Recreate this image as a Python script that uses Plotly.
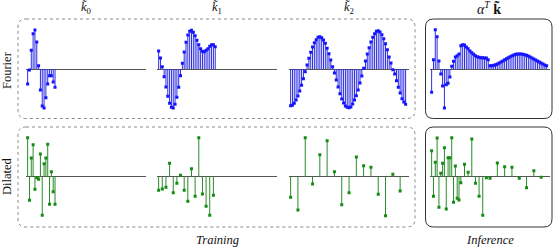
import plotly.graph_objects as go

W, H = 555, 247

# ---------------- data ----------------
k0_fourier = [-45, -3, 56, 106, 117, 81, 10, -63, -111, -117, -86, -45, -20, -20, -39, -55]
k1_fourier = [54, 33, 7, -23, -54, -82, -103, -115, -117, -106, -85, -55, -20, 17, 51, 80,
              102, 113, 116, 110, 100, 86, 73, 61, 53, 52, 56, 61, 68, 73, 73, 67]
k2_fourier = [-110, -109, -103, -93, -81, -66, -49, -29, -8, 12, 32, 50, 66, 79, 88, 95,
              97, 94, 87, 77, 62, 46, 27, 7, -12, -33, -54, -74, -90, -102, -111, -115,
              -116, -114, -105, -93, -80, -63, -42, -21, 2, 24, 45, 64, 81, 95, 106, 113,
              115, 111, 103, 91, 76, 58, 36, 18, -2, -15, -35, -55, -72, -89, -99, -106]
inf_fourier = [-70, 28, 118, 97, 24, -15, -51, -117, -47, -43, -24, 8, 23, 36, 40, 45,
               70, 73, 72, 66, 61, 54, 49, 44, 40, 37, 35, 34, 34, 33, 33, 28,
               10, 10, 11, 13, 15, 18, 21, 24, 28, 31, 34, 37, 40, 42, 44, 45,
               45, 45, 44, 43, 41, 39, 36, 33, 30, 27, 24, 21, 18, 15, 12, 10]

k0_dilated = [117, -71, 56, 96, -38, -3, -8, 68, -116, 39, 56, 97, -83, 15, -45, -83]
k1_dilated = [-41, -37, -32, 40, -48, -20, 4, -41, -74, 24, -59, 117, -52, -89, -116, -56]
k2_dilated = [-62, -100, 117, -22, 66, 108, 15, -84, -48, 59, 33, 28, -53, -117, 7, -43]
k0_dil_idx = list(range(0, 16, 1))
k1_dil_idx = list(range(0, 32, 2))
k2_dil_idx = list(range(0, 64, 4))
inf_dil_idx = list(range(0, 16)) + list(range(16, 32, 2)) + list(range(32, 64, 4))
inf_dilated = [78, -59, 43, 116, -92, 10, 40, 87, -97, 57, 57, 117, -77, 32, -65, -70,
               -18, 37, 13, 113, -20, -59, -116, -3, -5, 41, 30, 28, -5, -33, 18, -2]

col_titles = ["<i>k̃</i><sub>0</sub>", "<i>k̃</i><sub>1</sub>", "<i>k̃</i><sub>2</sub>",
              "<i>α</i><sup><i>T</i></sup> <b>k̃</b>"]
row_titles = ["Fourier", "Dilated"]
bottom_labels = ["Training", "Inference"]

# ---------------- layout helpers ----------------
def px(x):
    return x / W

def py(y):
    return 1 - y / H

col_left = [26, 157, 289, 430]
col_width = 119.5
row_top = [(22, 116), (129.7, 223.7)]
XR = [-0.9, -0.9 + col_width / 1.825]
YR = [-141, 141]

BLUE_STEM = "rgb(45,45,225)"
BLUE_MK = "rgb(20,20,255)"
GREEN_STEM = "rgb(40,140,40)"
GREEN_MK = "rgb(20,140,20)"

panels = [
    (0, 0, list(range(len(k0_fourier))), k0_fourier, "b"),
    (0, 1, list(range(len(k1_fourier))), k1_fourier, "b"),
    (0, 2, list(range(len(k2_fourier))), k2_fourier, "b"),
    (0, 3, list(range(len(inf_fourier))), inf_fourier, "b"),
    (1, 0, k0_dil_idx, k0_dilated, "g"),
    (1, 1, k1_dil_idx, k1_dilated, "g"),
    (1, 2, k2_dil_idx, k2_dilated, "g"),
    (1, 3, inf_dil_idx, inf_dilated, "g"),
]

fig = go.Figure()
layout = dict(width=W, height=H, margin=dict(l=0, r=0, t=0, b=0),
              paper_bgcolor="white", plot_bgcolor="white", showlegend=False)

for n, (r, c, xs, ys, col) in enumerate(panels):
    k = n + 1
    xa = "x" if k == 1 else f"x{k}"
    ya = "y" if k == 1 else f"y{k}"
    xname = "xaxis" if k == 1 else f"xaxis{k}"
    yname = "yaxis" if k == 1 else f"yaxis{k}"
    t, b = row_top[r]
    layout[xname] = dict(domain=[px(col_left[c]), px(col_left[c] + col_width)], range=XR,
                         visible=False, anchor=ya)
    layout[yname] = dict(domain=[py(b), py(t)], range=YR, anchor=xa,
                         showgrid=False, showticklabels=False, showline=False, ticks="",
                         zeroline=True, zerolinecolor="#555555", zerolinewidth=1)
    sx, sy = [], []
    for xi, yi in zip(xs, ys):
        sx += [xi, xi, None]
        sy += [0, yi, None]
    stem_c = BLUE_STEM if col == "b" else GREEN_STEM
    mk_c = BLUE_MK if col == "b" else GREEN_MK
    fig.add_trace(go.Scatter(x=sx, y=sy, mode="lines", line=dict(color=stem_c, width=1),
                             xaxis=xa, yaxis=ya, hoverinfo="skip"))
    fig.add_trace(go.Scatter(x=xs, y=ys, mode="markers",
                             marker=dict(symbol="square", size=3, color=mk_c, line=dict(width=0)),
                             xaxis=xa, yaxis=ya))

def rounded_rect(x0, y0, x1, y1, r=8):
    rx, ry = r / W, r / H
    X0, X1 = px(x0), px(x1)
    Y0, Y1 = py(y0), py(y1)  # Y0 top, Y1 bottom
    return (f"M {X0+rx},{Y0} L {X1-rx},{Y0} Q {X1},{Y0} {X1},{Y0-ry} "
            f"L {X1},{Y1+ry} Q {X1},{Y1} {X1-rx},{Y1} "
            f"L {X0+rx},{Y1} Q {X0},{Y1} {X0},{Y1+ry} "
            f"L {X0},{Y0-ry} Q {X0},{Y0} {X0+rx},{Y0} Z")

shapes = []
for (y0, y1) in [(19, 118.5), (127, 227)]:
    shapes.append(dict(type="path", xref="paper", yref="paper",
                       path=rounded_rect(18, y0, 415, y1),
                       line=dict(color="#8a8a8a", width=1, dash="dot")))
    shapes.append(dict(type="path", xref="paper", yref="paper",
                       path=rounded_rect(425.5, y0, 552, y1),
                       line=dict(color="#333333", width=1)))
layout["shapes"] = shapes

serif = "Liberation Serif"
ann = []
title_x = [86, 217, 349, 489]
for i, tt in enumerate(col_titles):
    ann.append(dict(x=px(title_x[i]), y=py(8), xref="paper", yref="paper", text=tt,
                    showarrow=False, xanchor="center", yanchor="middle",
                    font=dict(family=serif, size=14 if i == 3 else 12.5, color="#111111")))
for i, (tt, yc) in enumerate(zip(row_titles, [70, 176])):
    ann.append(dict(x=px(7), y=py(yc), xref="paper", yref="paper", text=tt, textangle=-90,
                    showarrow=False, xanchor="center", yanchor="middle",
                    font=dict(family=serif, size=12.5, color="#111111")))
for tt, xc in zip(bottom_labels, [217, 490]):
    ann.append(dict(x=px(xc), y=py(240), xref="paper", yref="paper", text=f"<i>{tt}</i>",
                    showarrow=False, xanchor="center", yanchor="middle",
                    font=dict(family=serif, size=12.5, color="#111111")))
layout["annotations"] = ann

fig.update_layout(**layout)
fig.write_html("out.html")
